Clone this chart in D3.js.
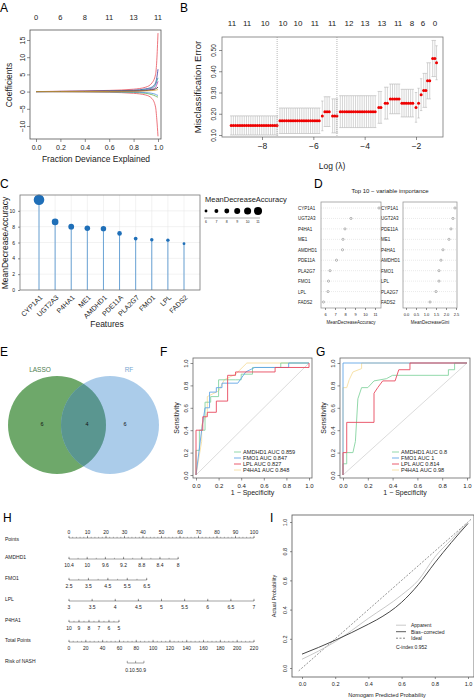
<!DOCTYPE html>
<html><head><meta charset="utf-8">
<script src="https://cdn.jsdelivr.net/npm/d3@7"></script>
<style>body{margin:0;background:#fff}svg{font-family:"Liberation Sans",Arial,sans-serif}</style>
</head><body><svg id="c" width="474" height="700"></svg>
<script>
// ---- Panel A data
const aX=[0,0.2,0.4,0.6,0.8,0.9,0.95,0.98,0.99,1.0];
const aTop=["0","6","8","11","13","11"];
const aPaths=[
 {c:"#e8505b",v:[0,0.1,0.2,0.35,0.7,1.3,2.5,5,9,17]},
 {c:"#e8505b",v:[0,-0.05,-0.1,-0.2,-0.5,-1,-2,-4.5,-8,-13]},
 {c:"#3b3ba0",v:[0,0.05,0.1,0.2,0.4,0.8,1.3,2.5,4,6.5]},
 {c:"#2aa0a0",v:[0,0.04,0.08,0.15,0.3,0.6,1,2,3,4]},
 {c:"#b03ab0",v:[0,0.03,0.06,0.1,0.2,0.4,0.7,1.2,2,3]},
 {c:"#6ab04c",v:[0,-0.02,-0.05,-0.1,-0.25,-0.5,-0.9,-1.3,-1.5,-1.6]},
 {c:"#4a90d9",v:[0,-0.01,-0.03,-0.06,-0.15,-0.3,-0.5,-0.8,-1,-1.1]},
 {c:"#222222",v:[0,0.02,0.04,0.07,0.15,0.3,0.5,0.8,1,1.3]},
 {c:"#d9a03a",v:[0,0.01,0.02,0.04,0.1,0.2,0.3,0.4,0.5,0.6]}
];
// ---- Panel B data (step segments of CV error)
const bSegStart=[-9.2,-7.3,-5.65,-5.55,-5.25,-4.95,-3.45,-3.2,-3.0,-2.55,-2.0,-1.9,-1.8,-1.7,-1.55,-1.35,-1.2];
const bSegEnd=  [-7.4,-5.75,-5.65,-5.3,-5.0,-3.55,-3.3,-3.05,-2.6,-2.1,-2.0,-1.9,-1.8,-1.6,-1.45,-1.25,-1.2];
const bSegErr=  [0.145,0.167,0.19,0.21,0.19,0.21,0.23,0.25,0.27,0.25,0.23,0.25,0.29,0.31,0.355,0.46,0.44];
const bSegSE=   [0.045,0.06,0.07,0.07,0.08,0.075,0.075,0.075,0.07,0.065,0.07,0.07,0.075,0.08,0.085,0.085,0.08];
const bTop=["11","11","10","10","10","11","11","12","13","13","11","8","6","0"];
const bTopPos=[-9.17,-8.58,-7.88,-7.18,-6.6,-5.94,-5.27,-4.61,-3.99,-3.33,-2.7,-2.16,-1.73,-1.26];
const bVLines=[-7.41,-5.08];
// ---- Panel C/D data
const cGenes=["CYP1A1","UGT2A3","P4HA1","ME1","AMDHD1","PDE11A","PLA2G7","FMO1","LPL","FADS2"];
const cVals=[11.4,8.6,8.0,7.8,7.75,7.15,6.5,6.35,6.3,5.85];
const legendSizes=[6,7,8,9,10,11];
const dGiniGenes=["CYP1A1","UGT2A3","PDE11A","ME1","P4HA1","AMDHD1","FMO1","LPL","PLA2G7","FADS2"];
const dGiniVals=[2.45,2.35,2.25,2.15,1.85,1.75,1.65,1.65,1.5,1.2];
// ---- Panel E
const vennSets=["LASSO","RF"];
const vennCounts=[6,4,6];
// ---- Panel F/G ROC
const rocGenes=["AMDHD1","FMO1","LPL","P4HA1"];
const rocColors=["#86d4a0","#62a6e6","#e84a5f","#f6dfa0"];
const fAUC=["0.859","0.847","0.827","0.848"];
const gAUC=["0.8","1","0.814","0.98"];
const fROC=[
 [[0,0],[0,0.22],[0.03,0.22],[0.03,0.4],[0.08,0.4],[0.08,0.65],[0.13,0.65],[0.13,0.7],[0.2,0.7],[0.2,0.85],[0.3,0.85],[0.35,0.85],[0.4,0.85],[0.4,0.9],[0.5,0.9],[0.5,0.96],[0.75,0.96],[0.75,1],[1,1]],
 [[0,0],[0.05,0.4],[0.08,0.6],[0.12,0.6],[0.12,0.74],[0.18,0.74],[0.18,0.78],[0.23,0.78],[0.23,0.82],[0.3,0.82],[0.37,0.82],[0.44,0.92],[0.52,0.96],[0.82,0.96],[0.82,1],[1,1]],
 [[0,0],[0,0.4],[0.06,0.4],[0.06,0.52],[0.1,0.52],[0.1,0.56],[0.18,0.56],[0.18,0.66],[0.28,0.66],[0.28,0.89],[0.35,0.89],[0.35,0.92],[0.7,0.92],[0.7,0.96],[1,0.96],[1,1]],
 [[0,0],[0.05,0.3],[0.05,0.45],[0.1,0.55],[0.1,0.7],[0.2,0.75],[0.25,0.85],[0.35,0.9],[0.45,1],[1,1]]
];
const gROC=[
 [[0,0],[0,0.1],[0.03,0.1],[0.03,0.2],[0.08,0.2],[0.1,0.3],[0.12,0.68],[0.15,0.78],[0.2,0.78],[0.25,0.84],[0.35,0.86],[0.4,0.89],[0.85,0.89],[0.85,0.94],[0.9,0.94],[0.9,1],[1,1]],
 [[0,0],[0,1],[0.17,1],[1,1]],
 [[0,0],[0,0.2],[0.03,0.2],[0.03,0.47],[0.25,0.47],[0.25,0.73],[0.28,0.78],[0.32,0.84],[0.42,0.84],[0.45,0.94],[0.54,0.94],[0.54,1],[1,1]],
 [[0,0],[0,0.78],[0.03,0.78],[0.05,0.85],[0.08,0.92],[0.15,0.95],[0.15,1],[1,1]]
];
// ---- Panel H nomogram
const hRows=[
 {name:"Points",ticks:[0,10,20,30,40,50,60,70,80,90,100],lo:0,hi:100,p0:0,p1:100,above:true,minor:2},
 {name:"AMDHD1",ticks:[10.4,10,9.6,9.2,8.8,8.4,8],lo:10.4,hi:8,p0:0,p1:59,minor:0.2},
 {name:"FMO1",ticks:[2.5,3.5,4.5,5.5,6.5],lo:2.5,hi:6.5,p0:0,p1:42,minor:0.5},
 {name:"LPL",ticks:[3,3.5,4,4.5,5,5.5,6,6.5,7],lo:3,hi:7,p0:0,p1:100,minor:0.5},
 {name:"P4HA1",ticks:[10,9,8,7,6,5],lo:10,hi:5,p0:0,p1:27,minor:0.5},
 {name:"Total  Points",ticks:[0,20,40,60,80,100,120,140,160,180,200,220],lo:0,hi:220,p0:0,p1:100,minor:5},
 {name:"Risk of NASH",ticks:[0.1,0.5,0.9],tickPts:[31.5,36,40.5],lo:0,hi:1,p0:31.5,p1:40.5}
];
// ---- Panel I calibration
const iIdeal=[[-0.02,-0.02],[1.02,1.02]];
const iApparent=[[0,0.06],[0.2,0.18],[0.4,0.34],[0.6,0.5],[0.7,0.6],[0.8,0.76],[0.9,0.88],[1,1]];
const iBias=[[0,0.095],[0.2,0.19],[0.4,0.3],[0.45,0.33],[0.6,0.45],[0.7,0.57],[0.8,0.72],[0.9,0.86],[1,0.99]];
const iLegend=["Apparent","Bias−corrected","Ideal"];

const svg=d3.select("#c");
const FS=7;
function letter(t,x,y){svg.append("text").attr("x",x).attr("y",y).attr("font-size",12).text(t);}
function txt(t,x,y,o={}){const e=svg.append("text").attr("x",x).attr("y",y).attr("font-size",o.fs||FS).attr("text-anchor",o.a||"middle").attr("fill",o.fill||"#222").text(t);if(o.rot!=null)e.attr("transform",`rotate(${o.rot},${x},${y})`);return e;}
function box(x0,y0,x1,y1,c="#555"){svg.append("rect").attr("x",x0).attr("y",y0).attr("width",x1-x0).attr("height",y1-y0).attr("fill","none").attr("stroke",c).attr("stroke-width",0.8);}
function styleAxis(g,rot,off){g.selectAll("path,line").attr("stroke","#444").attr("stroke-width",0.6);g.selectAll("text").attr("font-size",FS).attr("fill","#222").attr("font-family","Liberation Sans,Arial");
 if(rot)g.selectAll("text").attr("x",0).attr("y",0).attr("dx",0).attr("dy",0).attr("text-anchor","middle").attr("transform",`translate(${-(off||5)},0) rotate(-90)`);}

// ===== A =====
letter("A",0,12);
{const x=d3.scaleLinear([0,1],[36,158]),y=d3.scaleLinear([-10,15],[126,40]);
 box(30,30,161,139);
 svg.append("g").attr("transform","translate(0,139)").call(d3.axisBottom(x).ticks(5).tickFormat(d3.format(".1f")).tickSize(3).tickSizeOuter(0)).call(styleAxis).select(".domain").remove();
 svg.append("g").attr("transform","translate(30,0)").call(d3.axisLeft(y).tickValues([-10,-5,0,5,10,15]).tickSize(3)).call(g=>styleAxis(g,true,5)).select(".domain").remove();
 aTop.forEach((t,i)=>txt(t,36+i*24.4,20,{fs:7.5}));
 const line=d3.line().x((d,i)=>x(aX[i])).y(d=>y(d)).curve(d3.curveMonotoneX);
 aPaths.forEach(p=>svg.append("path").attr("d",line(p.v)).attr("fill","none").attr("stroke",p.c).attr("stroke-width",0.8));
 txt("Fraction Deviance Explained",96,162,{fs:8.5});
 txt("Coefficients",12,85,{fs:8.5,rot:-90});
}
// ===== B =====
letter("B",180,12);
{const x=d3.scaleLinear([-8,-2],[262,416]),y=d3.scaleLinear([0.1,0.5],[135,50]);
 const x0=222,x1=443,y0=37,y1=137;
 const pts=[];
 bSegStart.forEach((s,i)=>{for(let v=s;v<=bSegEnd[i]+1e-6;v+=0.085)pts.push({x:v,e:bSegErr[i],se:bSegSE[i]});if(bSegEnd[i]<=s&&!pts.find(p=>p.x===s))pts.push({x:s,e:bSegErr[i],se:bSegSE[i]});});
 const g=svg.append("g");
 pts.forEach(p=>{g.append("line").attr("x1",x(p.x)).attr("x2",x(p.x)).attr("y1",y(p.e-p.se)).attr("y2",y(p.e+p.se)).attr("stroke","#aaa").attr("stroke-width",0.5);
  [p.e-p.se,p.e+p.se].forEach(v=>g.append("line").attr("x1",x(p.x)-1.2).attr("x2",x(p.x)+1.2).attr("y1",y(v)).attr("y2",y(v)).attr("stroke","#aaa").attr("stroke-width",0.5));});
 bVLines.forEach(v=>svg.append("line").attr("x1",x(v)).attr("x2",x(v)).attr("y1",y0).attr("y2",y1).attr("stroke","#888").attr("stroke-dasharray","1,1").attr("stroke-width",0.6));
 pts.forEach(p=>g.append("circle").attr("cx",x(p.x)).attr("cy",y(p.e)).attr("r",1.5).attr("fill","#e00"));
 box(x0,y0,x1,y1,"#777");
 svg.append("g").attr("transform",`translate(0,${y1})`).call(d3.axisBottom(x).tickValues([-8,-6,-4,-2]).tickFormat(d=>"−"+(-d)).tickSize(3)).call(styleAxis).call(a=>a.selectAll("text").attr("font-size",8.5)).select(".domain").remove();
 svg.append("g").attr("transform",`translate(${x0},0)`).call(d3.axisLeft(y).tickValues([0.1,0.2,0.3,0.4,0.5]).tickSize(3)).call(a=>styleAxis(a,true,6)).call(a=>a.selectAll("text").attr("font-size",6.5)).select(".domain").remove();
 bTop.forEach((t,i)=>txt(t,x(bTopPos[i]),26,{fs:8}));
 txt("Misclassification Error",201,87,{fs:9.5,rot:-90});
 txt("Log (λ)",332,169,{fs:8.5});
}
// ===== C =====
letter("C",0,188);
{const x=d3.scalePoint(cGenes,[39,184]),y=d3.scaleLinear([0,12],[290,195]);
 const r=d3.scaleLinear([6,11],[1.5,5]);
 [0,2,4,6,8,10].forEach(v=>svg.append("line").attr("x1",20).attr("x2",200).attr("y1",y(v)).attr("y2",y(v)).attr("stroke","#e4e4e4").attr("stroke-width",0.5));
 cGenes.forEach(g=>svg.append("line").attr("x1",x(g)).attr("x2",x(g)).attr("y1",195).attr("y2",290).attr("stroke","#e4e4e4").attr("stroke-width",0.5));
 cGenes.forEach((g,i)=>{svg.append("line").attr("x1",x(g)).attr("x2",x(g)).attr("y1",y(0)).attr("y2",y(cVals[i])).attr("stroke","#6aa3d5").attr("stroke-width",1);
  svg.append("circle").attr("cx",x(g)).attr("cy",y(cVals[i])).attr("r",r(cVals[i])).attr("fill","#1f6fb8");});
 box(20,195,200,290,"#777");
 svg.append("g").attr("transform","translate(20,0)").call(d3.axisLeft(y).tickValues([0,2,4,6,8,10]).tickSize(2)).call(styleAxis).call(a=>a.selectAll("text").attr("font-size",5)).select(".domain").remove();
 cGenes.forEach(g=>txt(g,x(g)+4,298,{fs:7,a:"end",rot:-45}));
 txt("Features",107,327,{fs:8.5});
 txt("MeanDecreaseAccuracy",8,243,{fs:8.5,rot:-90});
 txt("MeanDecreaseAccuracy",205,202,{fs:7.5,a:"start"});
 const lx=d3.scalePoint(legendSizes,[206,258]);
 legendSizes.forEach(s=>{svg.append("circle").attr("cx",lx(s)).attr("cy",211).attr("r",r(s)*0.75+0.3).attr("fill","#000");txt(s,lx(s),223,{fs:3.5});});
 svg.append("line").attr("x1",204).attr("x2",260).attr("y1",218).attr("y2",218).attr("stroke","#333").attr("stroke-width",0.4);
}
// ===== D =====
letter("D",314,188);
txt("Top 10 − variable importance",390,193,{fs:6});
function dotPanel(genes,vals,dom,ticks,px0,px1,lx,title,fmt){
 const x=d3.scaleLinear(dom,[px0+3,px1-2]),y=d3.scalePoint(genes,[208,302]);
 genes.forEach((g,i)=>{svg.append("line").attr("x1",px0).attr("x2",px1).attr("y1",y(g)).attr("y2",y(g)).attr("stroke","#aaa").attr("stroke-dasharray","0.5,1.5").attr("stroke-width",0.5);
  svg.append("circle").attr("cx",x(vals[i])).attr("cy",y(g)).attr("r",1.1).attr("fill","none").attr("stroke","#777").attr("stroke-width",0.5);
  txt(g,lx,y(g)+2,{fs:4.5,a:"start"});});
 box(px0,202,px1,308,"#999");
 svg.append("g").attr("transform","translate(0,308)").call(d3.axisBottom(x).tickValues(ticks).tickFormat(fmt).tickSize(2)).call(styleAxis).call(a=>a.selectAll("text").attr("font-size",4)).select(".domain").remove();
 txt(title,(px0+px1)/2,324,{fs:4.5});
}
dotPanel(cGenes,cVals,[5.9,11.4],[6,7,8,9,10,11],321,381,298,"MeanDecreaseAccuracy",d3.format("d"));
dotPanel(dGiniGenes,dGiniVals,[0,2.45],[0,0.5,1,1.5,2,2.5],403,457,381,"MeanDecreaseGini",d3.format(".1f"));
// ===== E =====
letter("E",0,356);
{const cs=[{cx:57,fill:"#5e9f5a",o:0.9},{cx:110,fill:"#9cc3e6",o:0.85}];
 cs.forEach(c=>svg.append("circle").attr("cx",c.cx).attr("cy",425).attr("r",49).attr("fill",c.fill).attr("opacity",c.o));
 svg.append("clipPath").attr("id","clipG").append("circle").attr("cx",57).attr("cy",425).attr("r",49);
 svg.append("circle").attr("cx",110).attr("cy",425).attr("r",49).attr("fill","#5a9690").attr("clip-path","url(#clipG)");
 txt(vennSets[0],40,372,{fs:6.5,fill:"#4e7d4e"});txt(vennSets[1],129,372,{fs:6.5,fill:"#7aa7d0"});
 [42,87,125].forEach((px,i)=>txt(vennCounts[i],px,426,{fs:5.5,fill:"#111"}));
}
// ===== F / G =====
function roc(bx0,bx1,curves,aucs){
 const x=d3.scaleLinear([0,1],[bx0+3,bx1-3]),y=d3.scaleLinear([0,1],[475,363]);
 box(bx0,358,bx1,478,"#666");
 svg.append("line").attr("x1",x(0)).attr("y1",y(0)).attr("x2",x(1)).attr("y2",y(1)).attr("stroke","#ccc").attr("stroke-width",0.7);
 const ln=d3.line().x(d=>x(d[0])).y(d=>y(d[1]));
 [3,0,1,2].forEach(i=>svg.append("path").attr("d",ln(curves[i])).attr("fill","none").attr("stroke",rocColors[i]).attr("stroke-width",0.9));
 svg.append("g").attr("transform","translate(0,478)").call(d3.axisBottom(x).ticks(5).tickFormat(d3.format(".1f")).tickSize(2.5)).call(styleAxis).call(a=>a.selectAll("text").attr("font-size",6)).select(".domain").remove();
 svg.append("g").attr("transform",`translate(${bx0},0)`).call(d3.axisLeft(y).ticks(5).tickFormat(d3.format(".1f")).tickSize(2.5)).call(a=>styleAxis(a,true,5)).call(a=>a.selectAll("text").attr("font-size",6)).select(".domain").remove();
 txt("1 − Specificity",(bx0+bx1)/2,495,{fs:7});
 txt("Sensitivity",bx0-14,418,{fs:7,rot:-90});
 rocGenes.forEach((g,i)=>{const ly=454+i*6;const lx=bx1-70;
  svg.append("line").attr("x1",lx-8).attr("x2",lx-1).attr("y1",ly-2).attr("y2",ly-2).attr("stroke",rocColors[i]).attr("stroke-width",0.9);
  txt(g+" AUC "+aucs[i],lx+1,ly,{fs:5.6,a:"start"});});
}
letter("F",160,356);roc(193,312,fROC,fAUC);
letter("G",316,356);roc(340,470,gROC,gAUC);
// ===== H =====
letter("H",3,522);
{const px=d3.scaleLinear([0,100],[69,254]);
 const ys=[538,559,580,601,622,642,663];
 hRows.forEach((r,i)=>{const y=ys[i];
  txt(r.name,5,y+(i===0?3:0),{fs:5,a:"start"});
  const v2p=d3.scaleLinear([r.lo,r.hi],[r.p0,r.p1]);
  svg.append("line").attr("x1",px(r.p0)).attr("x2",px(r.p1)).attr("y1",y).attr("y2",y).attr("stroke","#444").attr("stroke-width",0.5);
  const tp=r.tickPts?r.tickPts:r.ticks.map(v=>v2p(v));
  if(r.minor){const mn=Math.min(r.lo,r.hi),mx=Math.max(r.lo,r.hi);for(let v=mn;v<=mx+1e-9;v+=r.minor)svg.append("line").attr("x1",px(v2p(v))).attr("x2",px(v2p(v))).attr("y1",y).attr("y2",y-1.2).attr("stroke","#444").attr("stroke-width",0.4);}
  tp.forEach((p,j)=>{svg.append("line").attr("x1",px(p)).attr("x2",px(p)).attr("y1",y).attr("y2",y-2.2).attr("stroke","#444").attr("stroke-width",0.5);
   if(r.name!=="Risk of NASH")txt(r.ticks[j],px(p),r.above?y-4:y+8,{fs:5});});
  if(r.name==="Risk of NASH")txt(r.ticks.join(""),px(36),y+9,{fs:5});
 });
}
// ===== I =====
letter("I",270,522);
{const x=d3.scaleLinear([0,1],[302,468]),y=d3.scaleLinear([0,1],[668,522]);
 box(292,515,474,677,"#555");
 const ln=d3.line().x(d=>x(d[0])).y(d=>y(d[1])).curve(d3.curveMonotoneX);
 svg.append("path").attr("d",ln(iIdeal)).attr("stroke","#666").attr("stroke-dasharray","2,1.5").attr("fill","none").attr("stroke-width",0.7);
 svg.append("path").attr("d",ln(iApparent)).attr("stroke","#bbb").attr("fill","none").attr("stroke-width",0.8);
 svg.append("path").attr("d",ln(iBias)).attr("stroke","#333").attr("fill","none").attr("stroke-width",0.9);
 svg.append("g").attr("transform","translate(0,677)").call(d3.axisBottom(x).ticks(5).tickFormat(d3.format(".1f")).tickSize(2)).call(styleAxis).call(a=>a.selectAll("text").attr("font-size",5.5)).select(".domain").remove();
 svg.append("g").attr("transform","translate(292,0)").call(d3.axisLeft(y).ticks(5).tickFormat(d3.format(".1f")).tickSize(2)).call(a=>styleAxis(a,true,5)).call(a=>a.selectAll("text").attr("font-size",5.5)).select(".domain").remove();
 txt("Nomogam Predicted Probability",387,697,{fs:5.5});
 txt("Actual Probability",276,596,{fs:5.5,rot:-90});
 const st=[{c:"#bbb",d:null},{c:"#333",d:null},{c:"#666",d:"2,1.5"}];
 iLegend.forEach((t,i)=>{const ly=627+i*6.5;const l=svg.append("line").attr("x1",396).attr("x2",406).attr("y1",ly-1.8).attr("y2",ly-1.8).attr("stroke",st[i].c).attr("stroke-width",0.8);if(st[i].d)l.attr("stroke-dasharray",st[i].d);txt(t,411,ly,{fs:5,a:"start"});});
 txt("C-index  0.952",396,649,{fs:5,a:"start"});
}
</script></body></html>
